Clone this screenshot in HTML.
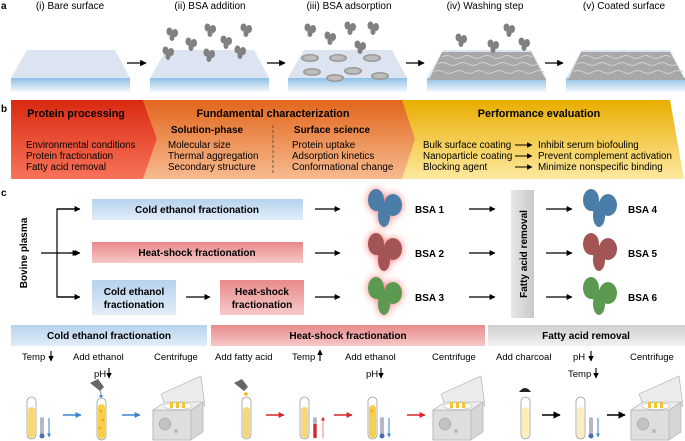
<!DOCTYPE html>
<html><head><meta charset="utf-8"><style>
html,body{margin:0;padding:0;background:#fff;}
svg{display:block;font-family:"Liberation Sans",Arial,sans-serif;}
</style></head><body>
<svg width="685" height="441" viewBox="0 0 685 441" xmlns="http://www.w3.org/2000/svg">
<defs>
<linearGradient id="slab" x1="0" y1="0" x2="0" y2="1"><stop offset="0" stop-color="#8fbfe6"/><stop offset="1" stop-color="#f4f9fd"/></linearGradient>
<linearGradient id="gRed" x1="0" y1="0" x2="0" y2="1"><stop offset="0" stop-color="#d92a10"/><stop offset="1" stop-color="#f8735a"/></linearGradient>
<linearGradient id="gOr" x1="0" y1="0" x2="0" y2="1"><stop offset="0" stop-color="#e2661c"/><stop offset="1" stop-color="#f7bb90"/></linearGradient>
<linearGradient id="gYe" x1="0" y1="0" x2="0" y2="1"><stop offset="0" stop-color="#e9ad00"/><stop offset="1" stop-color="#fde9a0"/></linearGradient>
<linearGradient id="bBlue" x1="0" y1="0" x2="0" y2="1"><stop offset="0" stop-color="#b5d2ee"/><stop offset="1" stop-color="#e2edf8"/></linearGradient>
<linearGradient id="bRed" x1="0" y1="0" x2="0" y2="1"><stop offset="0" stop-color="#e88a8a"/><stop offset="1" stop-color="#f7c9c9"/></linearGradient>
<linearGradient id="bGray" x1="0" y1="0" x2="0" y2="1"><stop offset="0" stop-color="#cfcfcf"/><stop offset="1" stop-color="#f2f2f2"/></linearGradient>
<linearGradient id="vGray" x1="0" y1="0" x2="1" y2="0"><stop offset="0" stop-color="#e8e8e8"/><stop offset="1" stop-color="#c8c8c8"/></linearGradient>
<filter id="glow" x="-50%" y="-50%" width="200%" height="200%"><feGaussianBlur stdDeviation="4"/></filter>
<marker id="ah" viewBox="0 0 10 10" refX="9" refY="5" markerWidth="5" markerHeight="5" orient="auto"><path d="M0,0L10,5L0,10z" fill="#000"/></marker>
<marker id="ahB" viewBox="0 0 10 10" refX="9" refY="5" markerWidth="4" markerHeight="4" orient="auto"><path d="M0,0L10,5L0,10z" fill="#3a86c8"/></marker>
<marker id="ahR" viewBox="0 0 10 10" refX="9" refY="5" markerWidth="4" markerHeight="4" orient="auto"><path d="M0,0L10,5L0,10z" fill="#d8262a"/></marker>
<g id="prot">
<ellipse cx="-9" cy="-8" rx="8" ry="11"/><ellipse cx="8" cy="-3" rx="9" ry="11"/><ellipse cx="-1" cy="8" rx="6" ry="11"/><ellipse cx="-3" cy="-1" rx="6" ry="6"/>
</g>
<g id="mini" fill="#808080">
<ellipse cx="-2.5" cy="-2.5" rx="3" ry="4"/><ellipse cx="3" cy="-1" rx="3" ry="4"/><ellipse cx="0" cy="3.5" rx="2.5" ry="3.5"/>
</g>
<g id="blob"><ellipse rx="9" ry="4" fill="#9a9a9a"/><ellipse rx="7" ry="2.5" fill="#bdbdbd"/></g>
<g id="surf">
<path d="M27,50 L115,50 L130,78 L11,78 Z" fill="#dce4f1"/>
<rect x="11" y="78" width="119" height="14" fill="url(#slab)"/>
</g>
<g id="tube"><rect x="0" y="0" width="9" height="42" rx="4.5" fill="#fff" stroke="#999" stroke-width="0.8"/></g>
<g id="centri">
<path d="M8,10 L48,-8 L52,22 L14,26 Z" fill="#ececec" stroke="#aaa" stroke-width="0.6"/>
<path d="M0,26 L38,26 L50,18 L50,48 L38,56 L0,56 Z" fill="#d6d6d6" stroke="#aaa" stroke-width="0.6"/>
<rect x="0" y="26" width="38" height="30" fill="#dedede" stroke="#aaa" stroke-width="0.6"/>
<path d="M0,26 L12,18 L50,18 L38,26 Z" fill="#eee" stroke="#aaa" stroke-width="0.6"/>
<ellipse cx="25" cy="22" rx="14" ry="3.5" fill="#fff" stroke="#aaa" stroke-width="0.5"/>
<rect x="17" y="18" width="3" height="6" fill="#f4c430"/><rect x="23" y="18" width="3" height="6" fill="#f4c430"/><rect x="29" y="18" width="3" height="6" fill="#f4c430"/>
<circle cx="12" cy="40" r="6" fill="#c2c2c2" stroke="#999" stroke-width="0.5"/><circle cx="23" cy="47" r="2" fill="#bbb"/>
</g>
</defs>

<!-- panel a -->
<text x="1" y="9" font-size="10" font-weight="bold">a</text>
<g font-size="10" text-anchor="middle">
<text x="70" y="9">(i) Bare surface</text><text x="210" y="9">(ii) BSA addition</text><text x="349" y="9">(iii) BSA adsorption</text><text x="485" y="9">(iv) Washing step</text><text x="624" y="9">(v) Coated surface</text>
</g>
<use href="#surf"/>
<use href="#surf" x="139"/>
<use href="#surf" x="277"/>
<use href="#surf" x="416"/>
<use href="#surf" x="555"/>
<g stroke="#000" stroke-width="1.3" marker-end="url(#ah)">
<line x1="127" y1="63" x2="146" y2="63"/><line x1="267" y1="63" x2="285" y2="63"/><line x1="406" y1="63" x2="424" y2="63"/><line x1="545" y1="63" x2="563" y2="63"/>
</g>
<!-- ii proteins -->
<use href="#mini" x="172" y="34"/><use href="#mini" x="191" y="44"/><use href="#mini" x="210" y="30"/><use href="#mini" x="226" y="42"/><use href="#mini" x="246" y="30"/><use href="#mini" x="168" y="53"/><use href="#mini" x="209" y="55"/><use href="#mini" x="240" y="52"/>
<!-- iii -->
<use href="#mini" x="310" y="30"/><use href="#mini" x="330" y="38"/><use href="#mini" x="350" y="28"/><use href="#mini" x="373" y="28"/><use href="#mini" x="360" y="47"/>
<use href="#blob" x="310" y="58"/><use href="#blob" x="338" y="58"/><use href="#blob" x="372" y="58"/><use href="#blob" x="312" y="72"/><use href="#blob" x="353" y="71"/><use href="#blob" x="380" y="76"/><use href="#blob" x="335" y="78"/>
<!-- iv & v coverage -->
<path d="M442,52 L531,52 L546,80 L429,80 Z" fill="#a8a8a8"/>
<path d="M581,52 L670,52 L685,80 L568,80 Z" fill="#a8a8a8"/>
<g fill="none" stroke="#d2d2d2" stroke-width="1">
<path d="M442,57 q5,-3 10,0 t10,0 t10,0 t10,0 t10,0 t10,0 t10,0 t10,0 t10,0 M438,64 q5,-3 10,0 t10,0 t10,0 t10,0 t10,0 t10,0 t10,0 t10,0 t10,0 t10,0 M434,72 q5,-3 10,0 t10,0 t10,0 t10,0 t10,0 t10,0 t10,0 t10,0 t10,0 t10,0 t10,0"/>
<path d="M581,57 q5,-3 10,0 t10,0 t10,0 t10,0 t10,0 t10,0 t10,0 t10,0 t10,0 M577,64 q5,-3 10,0 t10,0 t10,0 t10,0 t10,0 t10,0 t10,0 t10,0 t10,0 t10,0 M573,72 q5,-3 10,0 t10,0 t10,0 t10,0 t10,0 t10,0 t10,0 t10,0 t10,0 t10,0 t10,0"/>
</g>
<use href="#mini" x="461" y="40"/><use href="#mini" x="493" y="46"/><use href="#mini" x="509" y="30"/><use href="#mini" x="524" y="44"/>

<!-- panel b -->
<text x="1" y="112" font-size="10" font-weight="bold">b</text>
<path d="M400,100 L670,100 L684,179 L400,179 L413,139 Z" fill="url(#gYe)"/>
<path d="M143,100 L402,100 L415,139 L402,179 L143,179 L157,139 Z" fill="url(#gOr)"/>
<path d="M11,100 L143,100 L157,139 L143,179 L11,179 Z" fill="url(#gRed)"/>
<g font-size="10.8" font-weight="bold" text-anchor="middle">
<text x="76" y="117">Protein processing</text><text x="273" y="117">Fundamental characterization</text><text x="539" y="117">Performance evaluation</text>
<text x="207" y="133" font-size="10">Solution-phase</text><text x="332" y="133" font-size="10">Surface science</text>
</g>
<line x1="273" y1="125" x2="273" y2="173" stroke="#333" stroke-width="0.7" stroke-dasharray="3,2"/>
<g font-size="9.8">
<text x="26" y="148">Environmental conditions</text><text x="26" y="159">Protein fractionation</text><text x="26" y="170">Fatty acid removal</text>
<text x="168" y="148">Molecular size</text><text x="168" y="159">Thermal aggregation</text><text x="168" y="170">Secondary structure</text>
<text x="292" y="148">Protein uptake</text><text x="292" y="159">Adsorption kinetics</text><text x="292" y="170">Conformational change</text>
<text x="423" y="148">Bulk surface coating</text><text x="423" y="159">Nanoparticle coating</text><text x="423" y="170">Blocking agent</text>
<text x="538" y="148">Inhibit serum biofouling</text><text x="538" y="159">Prevent complement activation</text><text x="538" y="170">Minimize nonspecific binding</text>
</g>
<g stroke="#000" stroke-width="1.1" marker-end="url(#ah)">
<line x1="515" y1="145" x2="532" y2="145"/><line x1="515" y1="156" x2="532" y2="156"/><line x1="515" y1="167" x2="532" y2="167"/>
</g>

<!-- panel c -->
<text x="1" y="196" font-size="10" font-weight="bold">c</text>
<text transform="translate(27,253) rotate(-90)" font-size="10" font-weight="bold" text-anchor="middle">Bovine plasma</text>
<g stroke="#000" stroke-width="1.2" fill="none">
<line x1="41" y1="253" x2="78" y2="253" marker-end="url(#ah)"/>
<polyline points="78,209 57,209 57,297 78,297"/>
</g>
<g stroke="#000" stroke-width="1.2" marker-end="url(#ah)">
<line x1="57" y1="209" x2="80" y2="209"/><line x1="57" y1="297" x2="80" y2="297"/><line x1="70" y1="253" x2="80" y2="253"/>
<line x1="315" y1="209" x2="340" y2="209"/><line x1="315" y1="253" x2="340" y2="253"/><line x1="315" y1="297" x2="340" y2="297"/>
<line x1="186" y1="297" x2="210" y2="297"/>
<line x1="469" y1="209" x2="495" y2="209"/><line x1="469" y1="253" x2="495" y2="253"/><line x1="469" y1="297" x2="495" y2="297"/>
<line x1="546" y1="209" x2="572" y2="209"/><line x1="546" y1="253" x2="572" y2="253"/><line x1="546" y1="297" x2="572" y2="297"/>
</g>
<rect x="92" y="199" width="211" height="21" fill="url(#bBlue)"/>
<rect x="92" y="242" width="211" height="21" fill="url(#bRed)"/>
<rect x="92" y="280" width="84" height="35" fill="url(#bBlue)"/>
<rect x="220" y="280" width="84" height="35" fill="url(#bRed)"/>
<g font-size="10" font-weight="bold" text-anchor="middle">
<text x="197" y="213">Cold ethanol fractionation</text>
<text x="197" y="256">Heat-shock fractionation</text>
<text x="134" y="295">Cold ethanol</text><text x="134" y="308">fractionation</text>
<text x="262" y="295">Heat-shock</text><text x="262" y="308">fractionation</text>
<text x="415" y="213" text-anchor="start">BSA 1</text><text x="415" y="257" text-anchor="start">BSA 2</text><text x="415" y="301" text-anchor="start">BSA 3</text>
<text x="628" y="213" text-anchor="start">BSA 4</text><text x="628" y="257" text-anchor="start">BSA 5</text><text x="628" y="301" text-anchor="start">BSA 6</text>
</g>
<rect x="511" y="190" width="23" height="128" fill="url(#vGray)"/>
<text transform="translate(527,254) rotate(-90)" font-size="10" font-weight="bold" text-anchor="middle">Fatty acid removal</text>
<!-- proteins -->
<g fill="#ff6060" opacity="0.85" filter="url(#glow)">
<use href="#prot" x="385" y="208"/><use href="#prot" x="385" y="252"/><use href="#prot" x="385" y="296"/>
</g>
<use href="#prot" x="385" y="208" fill="#4a7ea8"/><use href="#prot" x="385" y="252" fill="#a35454"/><use href="#prot" x="385" y="296" fill="#5c9a52"/>
<use href="#prot" x="600" y="208" fill="#4a7ea8"/><use href="#prot" x="600" y="252" fill="#a35454"/><use href="#prot" x="600" y="296" fill="#5c9a52"/>

<!-- bottom section -->
<rect x="11" y="325" width="196" height="21" fill="url(#bBlue)"/>
<rect x="211" y="325" width="274" height="21" fill="url(#bRed)"/>
<rect x="488" y="325" width="197" height="21" fill="url(#bGray)"/>
<g font-size="10" font-weight="bold" text-anchor="middle">
<text x="109" y="339">Cold ethanol fractionation</text><text x="348" y="339">Heat-shock fractionation</text><text x="586" y="339">Fatty acid removal</text>
</g>
<g font-size="9.5">
<text x="22" y="360">Temp</text><text x="73" y="360">Add ethanol</text><text x="154" y="360">Centrifuge</text>
<text x="94" y="377">pH</text>
<text x="215" y="360">Add fatty acid</text><text x="292" y="360">Temp</text><text x="345" y="360">Add ethanol</text><text x="432" y="360">Centrifuge</text>
<text x="366" y="377">pH</text>
<text x="496" y="360">Add charcoal</text><text x="573" y="360">pH</text><text x="630" y="360">Centrifuge</text>
<text x="568" y="377">Temp</text>
</g>
<g stroke="#000" stroke-width="1.1" marker-end="url(#ah)">
<line x1="51" y1="351" x2="51" y2="361"/><line x1="109" y1="368" x2="109" y2="378"/>
<line x1="320" y1="361" x2="320" y2="350"/><line x1="381" y1="368" x2="381" y2="378"/>
<line x1="591" y1="351" x2="591" y2="361"/><line x1="596" y1="368" x2="596" y2="378"/>
</g>
<!-- tubes -->
<g>
<use href="#tube" x="27" y="397"/><rect x="28" y="407" width="7" height="31" rx="3.5" fill="#f7d774"/>
<rect x="40" y="417" width="4" height="21" rx="2" fill="#b8b8c4"/><circle cx="42" cy="436" r="2.5" fill="#4a6fb5"/>
<line x1="49" y1="418" x2="49" y2="437" stroke="#3a86c8" stroke-width="1" marker-end="url(#ahB)"/>
<line x1="63" y1="415" x2="81" y2="415" stroke="#3a86c8" stroke-width="1.5" marker-end="url(#ahB)"/>
<use href="#tube" x="97" y="398"/><rect x="98" y="404" width="7" height="35" rx="3.5" fill="#f7d04a"/>
<circle cx="101" cy="411" r="1.5" fill="#f2b400"/><circle cx="103" cy="420" r="1.5" fill="#f2b400"/><circle cx="100" cy="428" r="1.5" fill="#f2b400"/>
<path d="M90,383 l8,-4 l6,8 l-4,4z" fill="#666"/><line x1="100" y1="390" x2="101" y2="394" stroke="#888"/><circle cx="101" cy="396" r="1.5" fill="#3a86c8"/>
<line x1="122" y1="415" x2="140" y2="415" stroke="#3a86c8" stroke-width="1.5" marker-end="url(#ahB)"/>
<use href="#centri" x="153" y="384"/>

<use href="#tube" x="242" y="397"/><rect x="243" y="407" width="7" height="31" rx="3.5" fill="#f7d774"/>
<path d="M234,383 l8,-4 l6,8 l-4,4z" fill="#666"/><circle cx="246" cy="394" r="1.8" fill="#f2b400"/>
<line x1="266" y1="415" x2="284" y2="415" stroke="#d8262a" stroke-width="1.5" marker-end="url(#ahR)"/>
<use href="#tube" x="300" y="397"/><rect x="301" y="407" width="7" height="31" rx="3.5" fill="#f7d774"/>
<rect x="313" y="417" width="4" height="21" rx="2" fill="#b8b8c4"/><rect x="313.5" y="424" width="3" height="14" fill="#d8262a"/>
<line x1="323" y1="438" x2="323" y2="417" stroke="#f08080" stroke-width="1" marker-end="url(#ahR)"/>
<line x1="334" y1="415" x2="352" y2="415" stroke="#d8262a" stroke-width="1.5" marker-end="url(#ahR)"/>
<use href="#tube" x="368" y="397"/><rect x="369" y="405" width="7" height="33" rx="3.5" fill="#f7d04a"/><circle cx="372" cy="411" r="1.5" fill="#f2b400"/>
<rect x="380" y="417" width="4" height="21" rx="2" fill="#b8b8c4"/><circle cx="382" cy="436" r="2.5" fill="#4a6fb5"/>
<line x1="389" y1="418" x2="389" y2="437" stroke="#3a86c8" stroke-width="1" marker-end="url(#ahB)"/>
<line x1="407" y1="415" x2="425" y2="415" stroke="#d8262a" stroke-width="1.5" marker-end="url(#ahR)"/>
<use href="#centri" x="433" y="384"/>

<path d="M519,392 q6,-8 12,0 z" fill="#222"/>
<use href="#tube" x="521" y="397"/><rect x="522" y="407" width="7" height="31" rx="3.5" fill="#fbeeb8"/>
<line x1="542" y1="415" x2="560" y2="415" stroke="#000" stroke-width="1.5" marker-end="url(#ah)"/>
<use href="#tube" x="576" y="397"/><rect x="577" y="407" width="7" height="31" rx="3.5" fill="#fbeeb8"/>
<rect x="589" y="417" width="4" height="21" rx="2" fill="#b8b8c4"/><circle cx="591" cy="436" r="2.5" fill="#4a6fb5"/>
<line x1="598" y1="418" x2="598" y2="437" stroke="#3a86c8" stroke-width="1" marker-end="url(#ahB)"/>
<line x1="607" y1="415" x2="625" y2="415" stroke="#000" stroke-width="1.5" marker-end="url(#ah)"/>
<use href="#centri" x="631" y="384"/>
</g>
</svg>
</body></html>
